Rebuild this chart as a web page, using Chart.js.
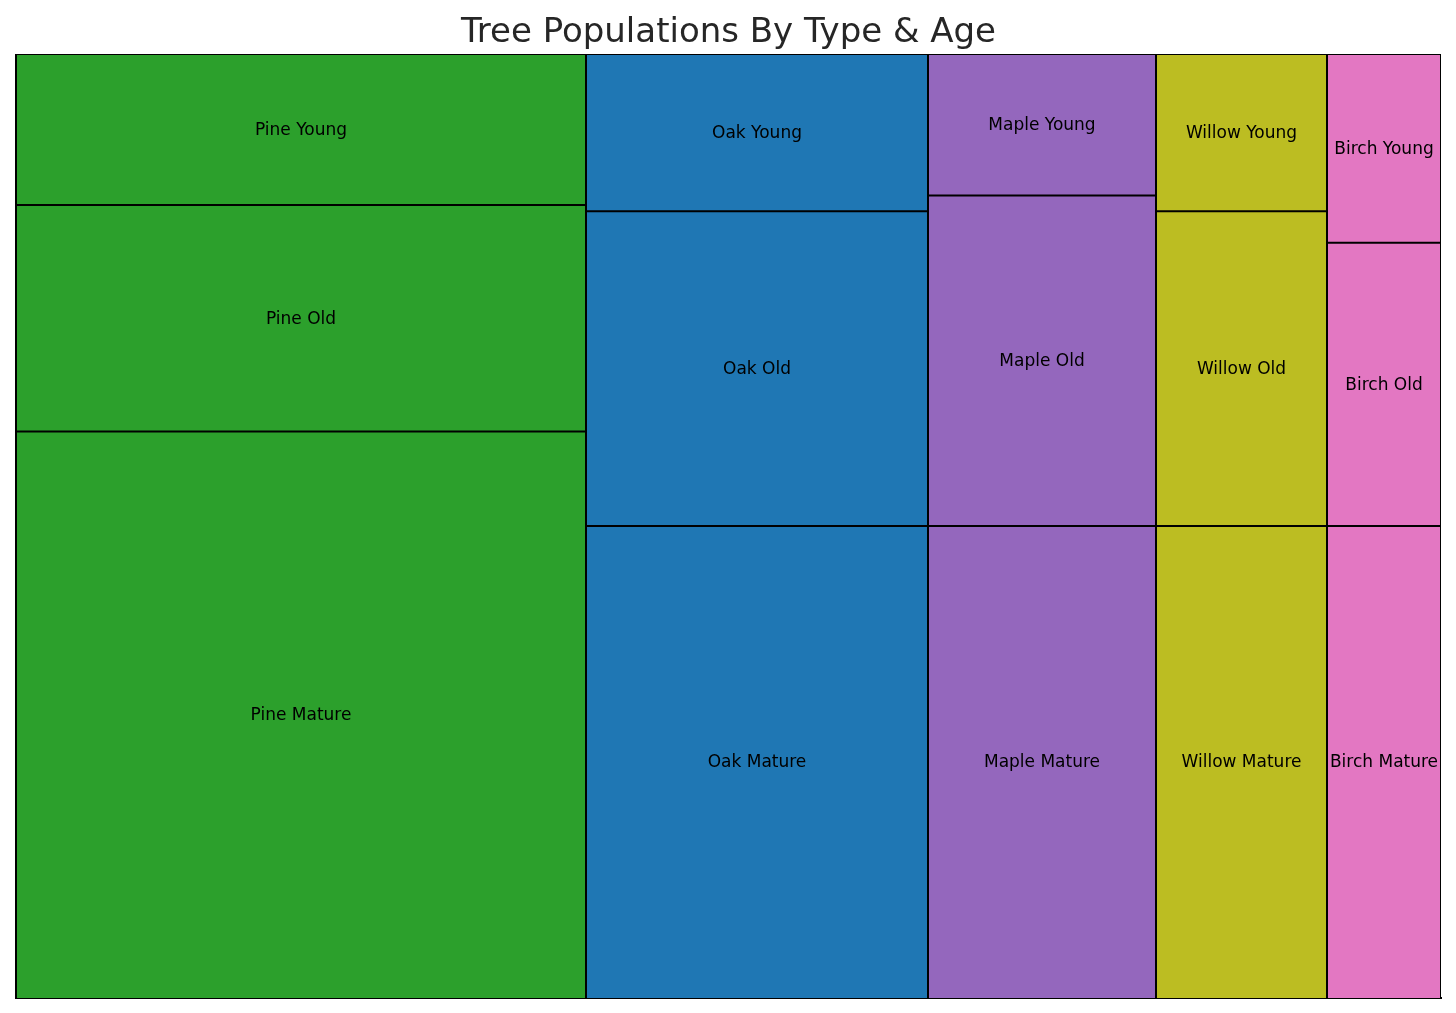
<!DOCTYPE html>
<html>
<head>
<meta charset="utf-8">
<title>Tree Populations By Type & Age</title>
<script src="https://cdn.jsdelivr.net/npm/chart.js@4/dist/chart.umd.js"></script>
<style>
    html, body { margin: 0; padding: 0; background: #fff; }
    #wrap { width: 1456px; height: 1013px; }
</style>
</head>
<body>
<div id="wrap"><canvas id="myChart" width="1456" height="1013"></canvas></div>
<script>
const categories = ['Pine', 'Oak', 'Maple', 'Willow', 'Birch'];
const ages = ['Young', 'Old', 'Mature'];
const young = [80, 50, 30, 25, 20];
const old = [120, 100, 70, 50, 30];
const mature = [300, 150, 100, 75, 50];
const colors = ['#2ca02c', '#1f77b4', '#9467bd', '#bcbd22', '#e377c2'];

const valuesByAge = [young, old, mature];
const totals = categories.map((c, i) => young[i] + old[i] + mature[i]);
const grandTotal = totals.reduce((a, b) => a + b, 0);

// slice by tree type along x, dice by age along y
const datasets = [];
let xStart = 0;
categories.forEach((cat, i) => {
    const xEnd = xStart + totals[i];
    let yStart = 0;
    ages.forEach((age, j) => {
        const yEnd = yStart + valuesByAge[j][i] / totals[i];
        datasets.push({
            label: cat + ' ' + age,
            data: [
                { x: xStart, y: yEnd },
                { x: xStart, y: yStart },
                { x: xEnd, y: yStart },
                { x: xEnd, y: yEnd },
            ],
            showLine: true,
            pointRadius: 0,
            tension: 0,
            borderColor: '#000',
            borderWidth: 2,
            backgroundColor: colors[i],
            fill: { value: yEnd },
            clip: { left: false, top: 0, right: 0, bottom: false },
        });
        yStart = yEnd;
    });
    xStart = xEnd;
});

// puts the name of each cell in its middle
const cellLabels = {
    id: 'cellLabels',
    afterDatasetsDraw(chart) {
        const { ctx, scales } = chart;
        ctx.save();
        ctx.font = '17px "DejaVu Sans"';
        ctx.fillStyle = '#000';
        ctx.textAlign = 'center';
        ctx.textBaseline = 'middle';
        chart.data.datasets.forEach(ds => {
            const p = ds.data;
            const cx = scales.x.getPixelForValue((p[1].x + p[2].x) / 2);
            const cy = scales.y.getPixelForValue((p[0].y + p[1].y) / 2) + 1;
            ctx.fillText(ds.label, cx, cy);
        });
        ctx.restore();
    },
};

new Chart(document.getElementById('myChart').getContext('2d'), {
    type: 'scatter',
    data: { datasets: datasets },
    plugins: [cellLabels],
    options: {
        responsive: false,
        animation: false,
        events: [],
        layout: { padding: { left: 16, right: 15, top: 0, bottom: 15 } },
        scales: {
            x: {
                type: 'linear',
                min: 0,
                max: grandTotal,
                grid: { display: false, drawTicks: false },
                ticks: { display: false },
                border: { display: true, color: '#000', width: 2 },
            },
            y: { type: 'linear', min: 0, max: 1, reverse: true, display: false },
        },
        plugins: {
            legend: { display: false },
            tooltip: { enabled: false },
            filler: { drawTime: 'beforeDatasetsDraw' },
            title: {
                display: true,
                text: 'Tree Populations By Type & Age',
                color: '#262626',
                font: { family: '"DejaVu Sans"', size: 34, weight: 'normal', lineHeight: 1.2 },
                padding: { top: 12.5, bottom: 0.7 },
            },
        },
    },
});
</script>
</body>
</html>
